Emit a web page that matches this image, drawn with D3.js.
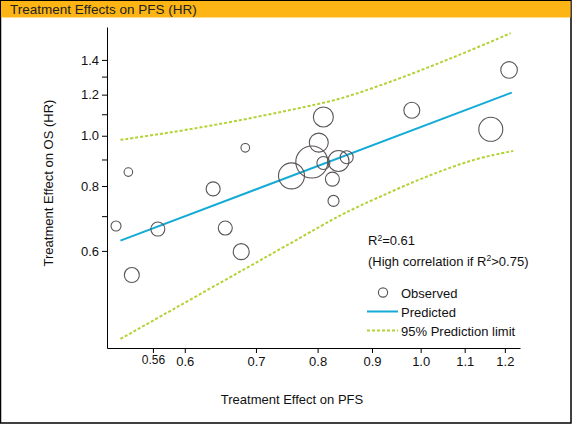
<!DOCTYPE html>
<html>
<head>
<meta charset="utf-8">
<script src="https://cdn.jsdelivr.net/npm/d3@7"></script>
<style>
  body { margin: 0; background: #fff; }
  svg { display: block; font-family: "Liberation Sans", Arial, sans-serif; }
</style>
</head>
<body>
<div id="chart"></div>
<script>
// observed trials: HR on PFS vs HR on OS, bubble = trial weight
const pfsHR   = [0.517, 0.531, 0.535, 0.566, 0.638, 0.684, 0.655, 0.678, 0.756, 0.790,
                 0.802, 0.810, 0.810, 0.837, 0.852, 0.826, 0.828, 0.981, 1.164, 1.211];
const osHR    = [0.670, 0.851, 0.539, 0.661, 0.790, 0.948, 0.664, 0.598, 0.837, 0.890,
                 0.970, 1.087, 0.886, 0.894, 0.909, 0.825, 0.749, 1.120, 1.029, 1.339];
const weights = [100, 74, 225, 196, 196, 74, 196, 256, 676, 1024,
                 361, 400, 169, 441, 169, 196, 121, 256, 576, 276];

// regression line end points
const predPFS = [0.522, 1.218];
const predOS  = [0.628, 1.211];

// 95% prediction limits
const upperPFS = [0.522, 0.569, 0.634, 0.706, 0.787, 0.840, 0.902, 0.970, 1.043, 1.121, 1.215];
const upperOS  = [0.982, 1.007, 1.045, 1.089, 1.142, 1.176, 1.236, 1.304, 1.383, 1.468, 1.576];
const lowerPFS = [0.522, 0.648, 0.804, 0.846, 0.909, 0.977, 1.050, 1.129, 1.222];
const lowerOS  = [0.406, 0.521, 0.668, 0.709, 0.758, 0.810, 0.859, 0.905, 0.935];

const xTicks  = [0.56, 0.6, 0.7, 0.8, 0.9, 1.0, 1.1, 1.2];
const yTicks  = [0.6, 0.7, 0.8, 0.9, 1.0, 1.1, 1.2, 1.3, 1.4];
const yLabels = [0.6, 0.8, 1.0, 1.2, 1.4];

const width = 572, height = 424;
const margin = { top: 27, left: 107, bottom: 76, right: 52 };

const svg = d3.select("#chart").append("svg")
    .attr("width", width)
    .attr("height", height);

// frame + title bar
svg.append("rect")
    .attr("x", 0.5).attr("y", 0.5)
    .attr("width", width - 1.5).attr("height", height - 1.5)
    .attr("fill", "#fff").attr("stroke", "#000").attr("stroke-width", 1.5);
svg.append("rect")
    .attr("x", 1).attr("y", 1)
    .attr("width", width - 2.5).attr("height", 16.5)
    .attr("fill", "#FDB515");
svg.append("text")
    .attr("x", 10).attr("y", 14)
    .attr("font-size", 13.5).attr("fill", "#222")
    .text("Treatment Effects on PFS (HR)");

const x = d3.scaleLog()
    .domain([0.507, 1.24])
    .range([margin.left, width - margin.right]);
const y = d3.scaleLog()
    .domain([0.39, 1.62])
    .range([height - margin.bottom, margin.top]);
const r = d3.scaleSqrt().domain([0, 1024]).range([0, 16]);

// axes
const xAxis = svg.append("g")
    .attr("transform", `translate(0,${height - margin.bottom})`)
    .call(d3.axisBottom(x).tickValues(xTicks).tickSize(5).tickSizeOuter(0).tickPadding(4)
        .tickFormat(d => d === 0.56 ? "0.56" : d3.format(".1f")(d)));
xAxis.selectAll("text").attr("font-size", 13).attr("fill", "#111")
    .filter(d => d === 0.56).attr("font-size", 12).attr("dy", "0.6em");

const yAxis = svg.append("g")
    .attr("transform", `translate(${margin.left},0)`)
    .call(d3.axisLeft(y).tickValues(yTicks).tickSize(5).tickSizeOuter(0).tickPadding(3)
        .tickFormat(d => yLabels.includes(d) ? d3.format(".1f")(d) : ""));
yAxis.selectAll("text").attr("font-size", 13).attr("fill", "#111");

svg.selectAll(".domain, .tick line").attr("stroke", "#000");

svg.append("text")
    .attr("x", 292).attr("y", 404)
    .attr("text-anchor", "middle").attr("font-size", 13).attr("fill", "#111")
    .text("Treatment Effect on PFS");
svg.append("text")
    .attr("transform", "translate(52.5,183) rotate(-90)")
    .attr("text-anchor", "middle").attr("font-size", 13).attr("fill", "#111")
    .text("Treatment Effect on OS (HR)");

// prediction limits
const limitLine = d3.line()
    .x(d => x(d[0]))
    .y(d => y(d[1]))
    .curve(d3.curveBasis);
const green = "#B2D235";
[[upperPFS, upperOS], [lowerPFS, lowerOS]].forEach(([px, py]) => {
    svg.append("path")
        .datum(px.map((v, i) => [v, py[i]]))
        .attr("d", limitLine)
        .attr("fill", "none")
        .attr("stroke", green)
        .attr("stroke-width", 2)
        .attr("stroke-dasharray", "3,2");
});

// predicted
svg.append("path")
    .datum(predPFS.map((v, i) => [v, predOS[i]]))
    .attr("d", d3.line().x(d => x(d[0])).y(d => y(d[1])))
    .attr("fill", "none")
    .attr("stroke", "#14AAD6")
    .attr("stroke-width", 2);

// observed
svg.append("g").selectAll("circle")
    .data(pfsHR.map((v, i) => ({ pfs: v, os: osHR[i], w: weights[i] })))
    .enter().append("circle")
    .attr("cx", d => x(d.pfs))
    .attr("cy", d => y(d.os))
    .attr("r", d => r(d.w))
    .attr("fill", "none")
    .attr("stroke", "#5a5458")
    .attr("stroke-width", 1.1);

// R2 note
const note = svg.append("g").attr("font-size", 13).attr("fill", "#111");
const t1 = note.append("text").attr("x", 368).attr("y", 245);
t1.append("tspan").text("R");
t1.append("tspan").attr("font-size", 8.5).attr("dy", -4.5).text("2");
t1.append("tspan").attr("dy", 4.5).text("=0.61");
const t2 = note.append("text").attr("x", 368).attr("y", 265.5);
t2.append("tspan").text("(High correlation if R");
t2.append("tspan").attr("font-size", 8.5).attr("dy", -4.5).text("2");
t2.append("tspan").attr("dy", 4.5).text(">0.75)");

// legend
const legend = svg.append("g").attr("font-size", 13).attr("fill", "#111");
legend.append("circle")
    .attr("cx", 383).attr("cy", 292.5).attr("r", 4.6)
    .attr("fill", "none").attr("stroke", "#5a5458").attr("stroke-width", 1.1);
legend.append("text").attr("x", 401).attr("y", 297.5).text("Observed");
legend.append("line")
    .attr("x1", 367).attr("x2", 398).attr("y1", 311.5).attr("y2", 311.5)
    .attr("stroke", "#14AAD6").attr("stroke-width", 2);
legend.append("text").attr("x", 401).attr("y", 316.5).text("Predicted");
legend.append("line")
    .attr("x1", 367).attr("x2", 398).attr("y1", 330.5).attr("y2", 330.5)
    .attr("stroke", green).attr("stroke-width", 2).attr("stroke-dasharray", "3,2");
legend.append("text").attr("x", 401).attr("y", 335.5).text("95% Prediction limit");
</script>
</body>
</html>
